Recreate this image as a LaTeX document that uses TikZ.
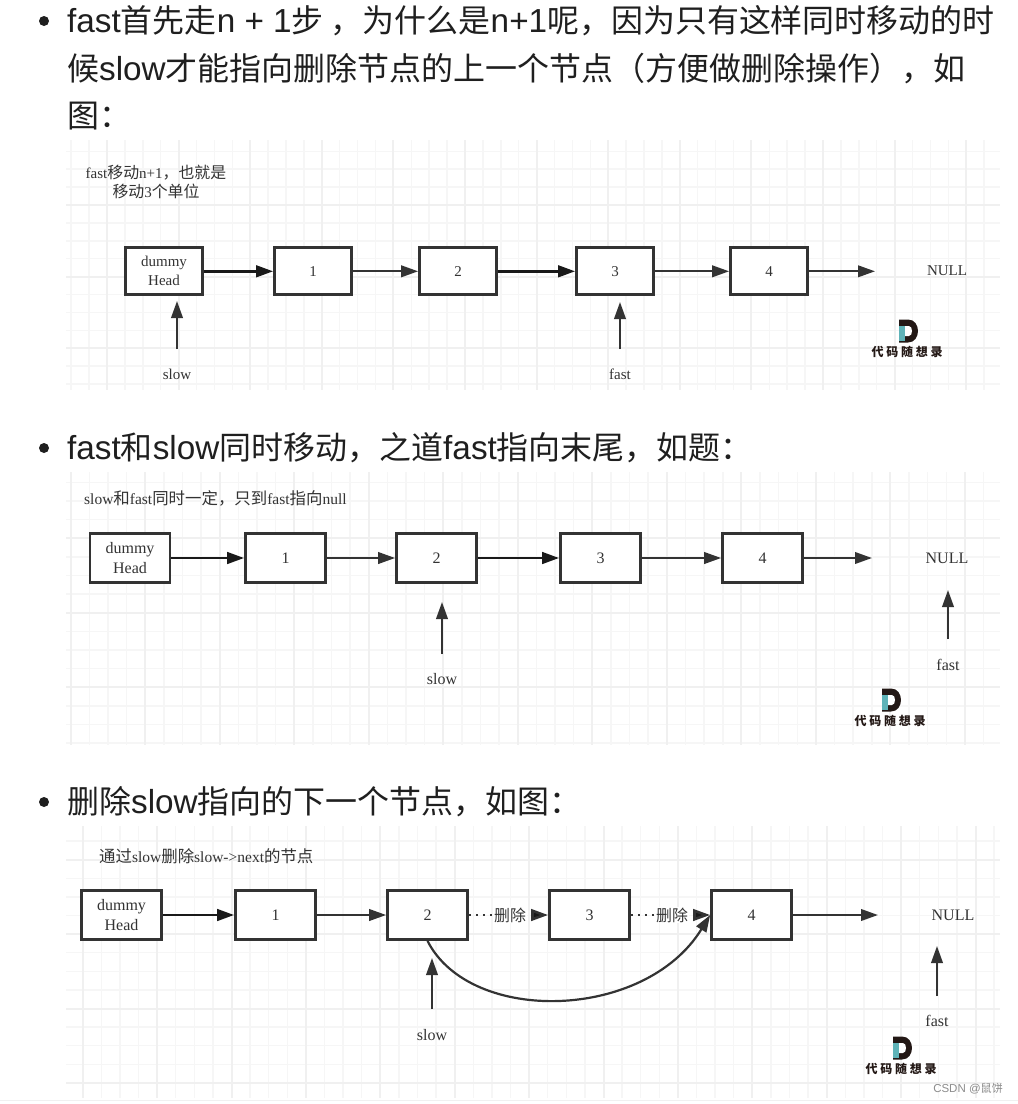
\documentclass[tikz,border=0pt]{standalone}
\usepackage{fontspec}
\usetikzlibrary{arrows.meta}
\setmainfont{Liberation Serif}
\newfontfamily\hd{Liberation Sans}
\newfontfamily\zh[Scale=1.06]{Noto Sans CJK SC}
\newfontfamily\zl[Scale=0.96]{Noto Sans CJK SC}
\newfontfamily\zk{Noto Sans CJK SC}
\newcommand{\zt}[1]{{\zh #1}}
\newcommand{\zb}[1]{{\zl #1}}
\definecolor{ink}{HTML}{333333}
\definecolor{gmin}{HTML}{F6F6F6}
\definecolor{gmaj}{HTML}{F0F0F0}
\definecolor{teal1}{HTML}{5FB3B8}
\definecolor{dk}{HTML}{231815}
\tikzset{
 listbox/.style={draw=ink,line width=2.7pt,fill=white,minimum width=77pt,minimum height=47pt,inner sep=0pt,font=\fontsize{15}{19}\selectfont,text=ink,align=center},
 listboxb/.style={listbox,minimum width=80pt,minimum height=49pt,font=\fontsize{16}{19.5}\selectfont},
 lbl/.style={font=\fontsize{15}{19}\selectfont,text=ink,align=center,inner sep=0pt},
 lblb/.style={lbl,font=\fontsize{16}{19}\selectfont},
 ttl/.style={lbl,font=\fontsize{15.5}{19}\selectfont,anchor=west},
 lead/.style={font=\hd\fontsize{33.3}{47}\selectfont,text=black!88,anchor=west,inner sep=0pt},
 link/.style={draw=ink,line width=2.2pt,-{Triangle[length=17pt,width=11.5pt,fill=ink]}},
 linkb/.style={draw=black!90,line width=2.8pt,-{Triangle[length=17pt,width=11.5pt,fill=black!90]}},
 cut/.style={draw=ink,line width=2.6pt,dash pattern=on 2.6pt off 4.4pt,-{Triangle[length=17pt,width=11.5pt,fill=black!90]}},
 bullet/.style={circle,fill=black!88,minimum size=10pt,inner sep=0pt},
 logot/.style={font=\zk\bfseries\fontsize{12}{14}\selectfont,text=dk,inner sep=0pt},
}
\newcommand{\panel}[7]{% x0,y0,x1,y1,xoff,yoff,step
 \begin{scope}
  \clip (#1,#2) rectangle (#3,#4);
  \foreach \k in {-5,...,60}{
   \draw[gmin,line width=1.5pt] ({#5+#7*\k},#2) -- ({#5+#7*\k},#4);
   \draw[gmin,line width=1.5pt] (#1,{#6+#7*\k}) -- (#3,{#6+#7*\k});}
  \foreach \k in {-1,...,14}{
   \draw[gmaj,line width=2pt] ({#5+4*#7*\k},#2) -- ({#5+4*#7*\k},#4);
   \draw[gmaj,line width=2pt] (#1,{#6+4*#7*\k}) -- (#3,{#6+4*#7*\k});}
 \end{scope}}
\newcommand{\logo}[3]{% name,x,y of D centre
 \fill[dk] ({#2-9},{#3-11.5}) -- ({#2},{#3-11.5}) .. controls ({#2+13.3},{#3-11.5}) and ({#2+13.3},{#3+11.5}) .. ({#2},{#3+11.5}) -- ({#2-9},{#3+11.5}) -- cycle;
 \fill[white] ({#2-3},{#3-5}) -- ({#2+1},{#3-5}) .. controls ({#2+5},{#3-5}) and ({#2+5},{#3+5}) .. ({#2+1},{#3+5}) -- ({#2-3},{#3+5}) -- cycle;
 \fill[teal1] ({#2-9},{#3-5}) rectangle ({#2-3},{#3+10});
 \node[logot] (#1) at ({#2-1},{#3+21}) {代 码 随 想 录};}
\begin{document}
\begin{tikzpicture}[x=1pt,y=-1pt]
\useasboundingbox (0,0) rectangle (1018,1104);
\fill[white] (0,0) rectangle (1018,1104);
% leading text
\node[bullet] (b1) at (44,21) {};
\node[lead] (t1) at (67,21) {fast\zb{首先走}n + 1\zb{步 ，为什么是}n+1\zb{呢，因为只有这样同时移动的时}};
\node[lead] (t2) at (67,69) {\zb{候}slow\zb{才能指向删除节点的上一个节点（方便做删除操作），如}};
\node[lead] (t3) at (67,116) {\zb{图：}};
\node[bullet] (b2) at (44,448) {};
\node[lead] (t4) at (67,448) {fast\zb{和}slow\zb{同时移动，之道}fast\zb{指向末尾，如题：}};
\node[bullet] (b3) at (44,802) {};
\node[lead] (t5) at (67,802) {\zb{删除}slow\zb{指向的下一个节点，如图：}};
% panel 1
\panel{66}{140}{1000}{390}{107}{205}{17.9}
\node[lbl] (a0) at (156,181.5) {fast\zt{移动}n+1\zt{，也就是}\\\zt{移动}3\zt{个单位}};
\node[listbox] (ad) at (164,271.3) {dummy\\Head};
\node[listbox] (a1) at (313,271.3) {1};
\node[listbox] (a2) at (458,271.3) {2};
\node[listbox] (a3) at (615,271.3) {3};
\node[listbox] (a4) at (769,271.3) {4};
\node[lbl] (an) at (947,271) {NULL};
\coordinate (ae) at (875,271.3);
\node[lbl] (as) at (177,374) {slow};
\node[lbl] (af) at (620,374) {fast};
\coordinate (ast) at (177,349); \coordinate (asd) at (177,301);
\coordinate (aft) at (620,349); \coordinate (afd) at (620,302);
\draw[linkb] (ad) -- (a1);
\draw[link] (a1) -- (a2);
\draw[linkb] (a2) -- (a3);
\draw[link] (a3) -- (a4);
\draw[link] (a4) -- (ae);
\draw[link] (ast) -- (asd);
\draw[link] (aft) -- (afd);
\logo{al}{908}{331}
% panel 2
\panel{66}{472}{1000}{745}{70.7}{538.3}{18.63}
\node[ttl] (b0) at (84,498) {slow\zt{和}fast\zt{同时一定，只到}fast\zt{指向}null};
\node[listboxb] (bd) at (130,558) {dummy\\Head};
\node[listboxb] (b1n) at (285.5,558) {1};
\node[listboxb] (b2n) at (436.5,558) {2};
\node[listboxb] (b3n) at (600.5,558) {3};
\node[listboxb] (b4n) at (762.5,558) {4};
\node[lblb] (bn) at (947,558) {NULL};
\coordinate (be) at (872,558);
\node[lblb] (bs) at (442,679) {slow};
\node[lblb] (bf) at (948,665) {fast};
\coordinate (bst) at (442,654); \coordinate (bsd) at (442,602);
\coordinate (bft) at (948,639); \coordinate (bfd) at (948,590);
\draw[linkb] (bd) -- (b1n);
\draw[link] (b1n) -- (b2n);
\draw[linkb] (b2n) -- (b3n);
\draw[link] (b3n) -- (b4n);
\draw[link] (b4n) -- (be);
\draw[link] (bst) -- (bsd);
\draw[link] (bft) -- (bfd);
\logo{bl}{891}{700}
% panel 3
\panel{66}{826}{1000}{1098}{82.7}{859.7}{18.6}
\node[ttl] (c0) at (99,856) {\zt{通过}slow\zt{删除}slow->next\zt{的节点}};
\node[listboxb] (cd) at (121.5,915) {dummy\\Head};
\node[listboxb] (c1) at (275.5,915) {1};
\node[listboxb] (c2) at (427.5,915) {2};
\node[listboxb] (c3) at (589.5,915) {3};
\node[listboxb] (c4) at (751.5,915) {4};
\node[lblb] (cn) at (953,915) {NULL};
\coordinate (ce) at (878,915);
\node[lblb] (cs) at (432,1035) {slow};
\node[lblb] (cf) at (937,1021) {fast};
\coordinate (cst) at (432,1009); \coordinate (csd) at (432,958);
\coordinate (cft) at (937,996); \coordinate (cfd) at (937,946);
\draw[linkb] (cd) -- (c1);
\draw[link] (c1) -- (c2);
\draw[cut] (c2) -- (c3);
\draw[cut] (c3) -- (c4);
\node[lbl,fill=white,inner sep=1pt] (cx1) at (510,915) {\zt{删除}};
\node[lbl,fill=white,inner sep=1pt] (cx2) at (672,915) {\zt{删除}};
\draw[link] (c4) -- (ce);
\draw[link] (cst) -- (csd);
\draw[link] (cft) -- (cfd);
\draw[link] (c2.south) .. controls (470,1025) and (645,1021) .. (c4.west);
\logo{cl}{902}{1048}
% footer
\draw[gmaj,line width=1pt] (0,1100) -- (1018,1100);
\node[font=\hd\fontsize{11.5}{14}\selectfont,text=black!45,anchor=east,inner sep=0pt] (wm) at (1003,1089) {CSDN @\zb{鼠饼}};
\end{tikzpicture}
\end{document}
